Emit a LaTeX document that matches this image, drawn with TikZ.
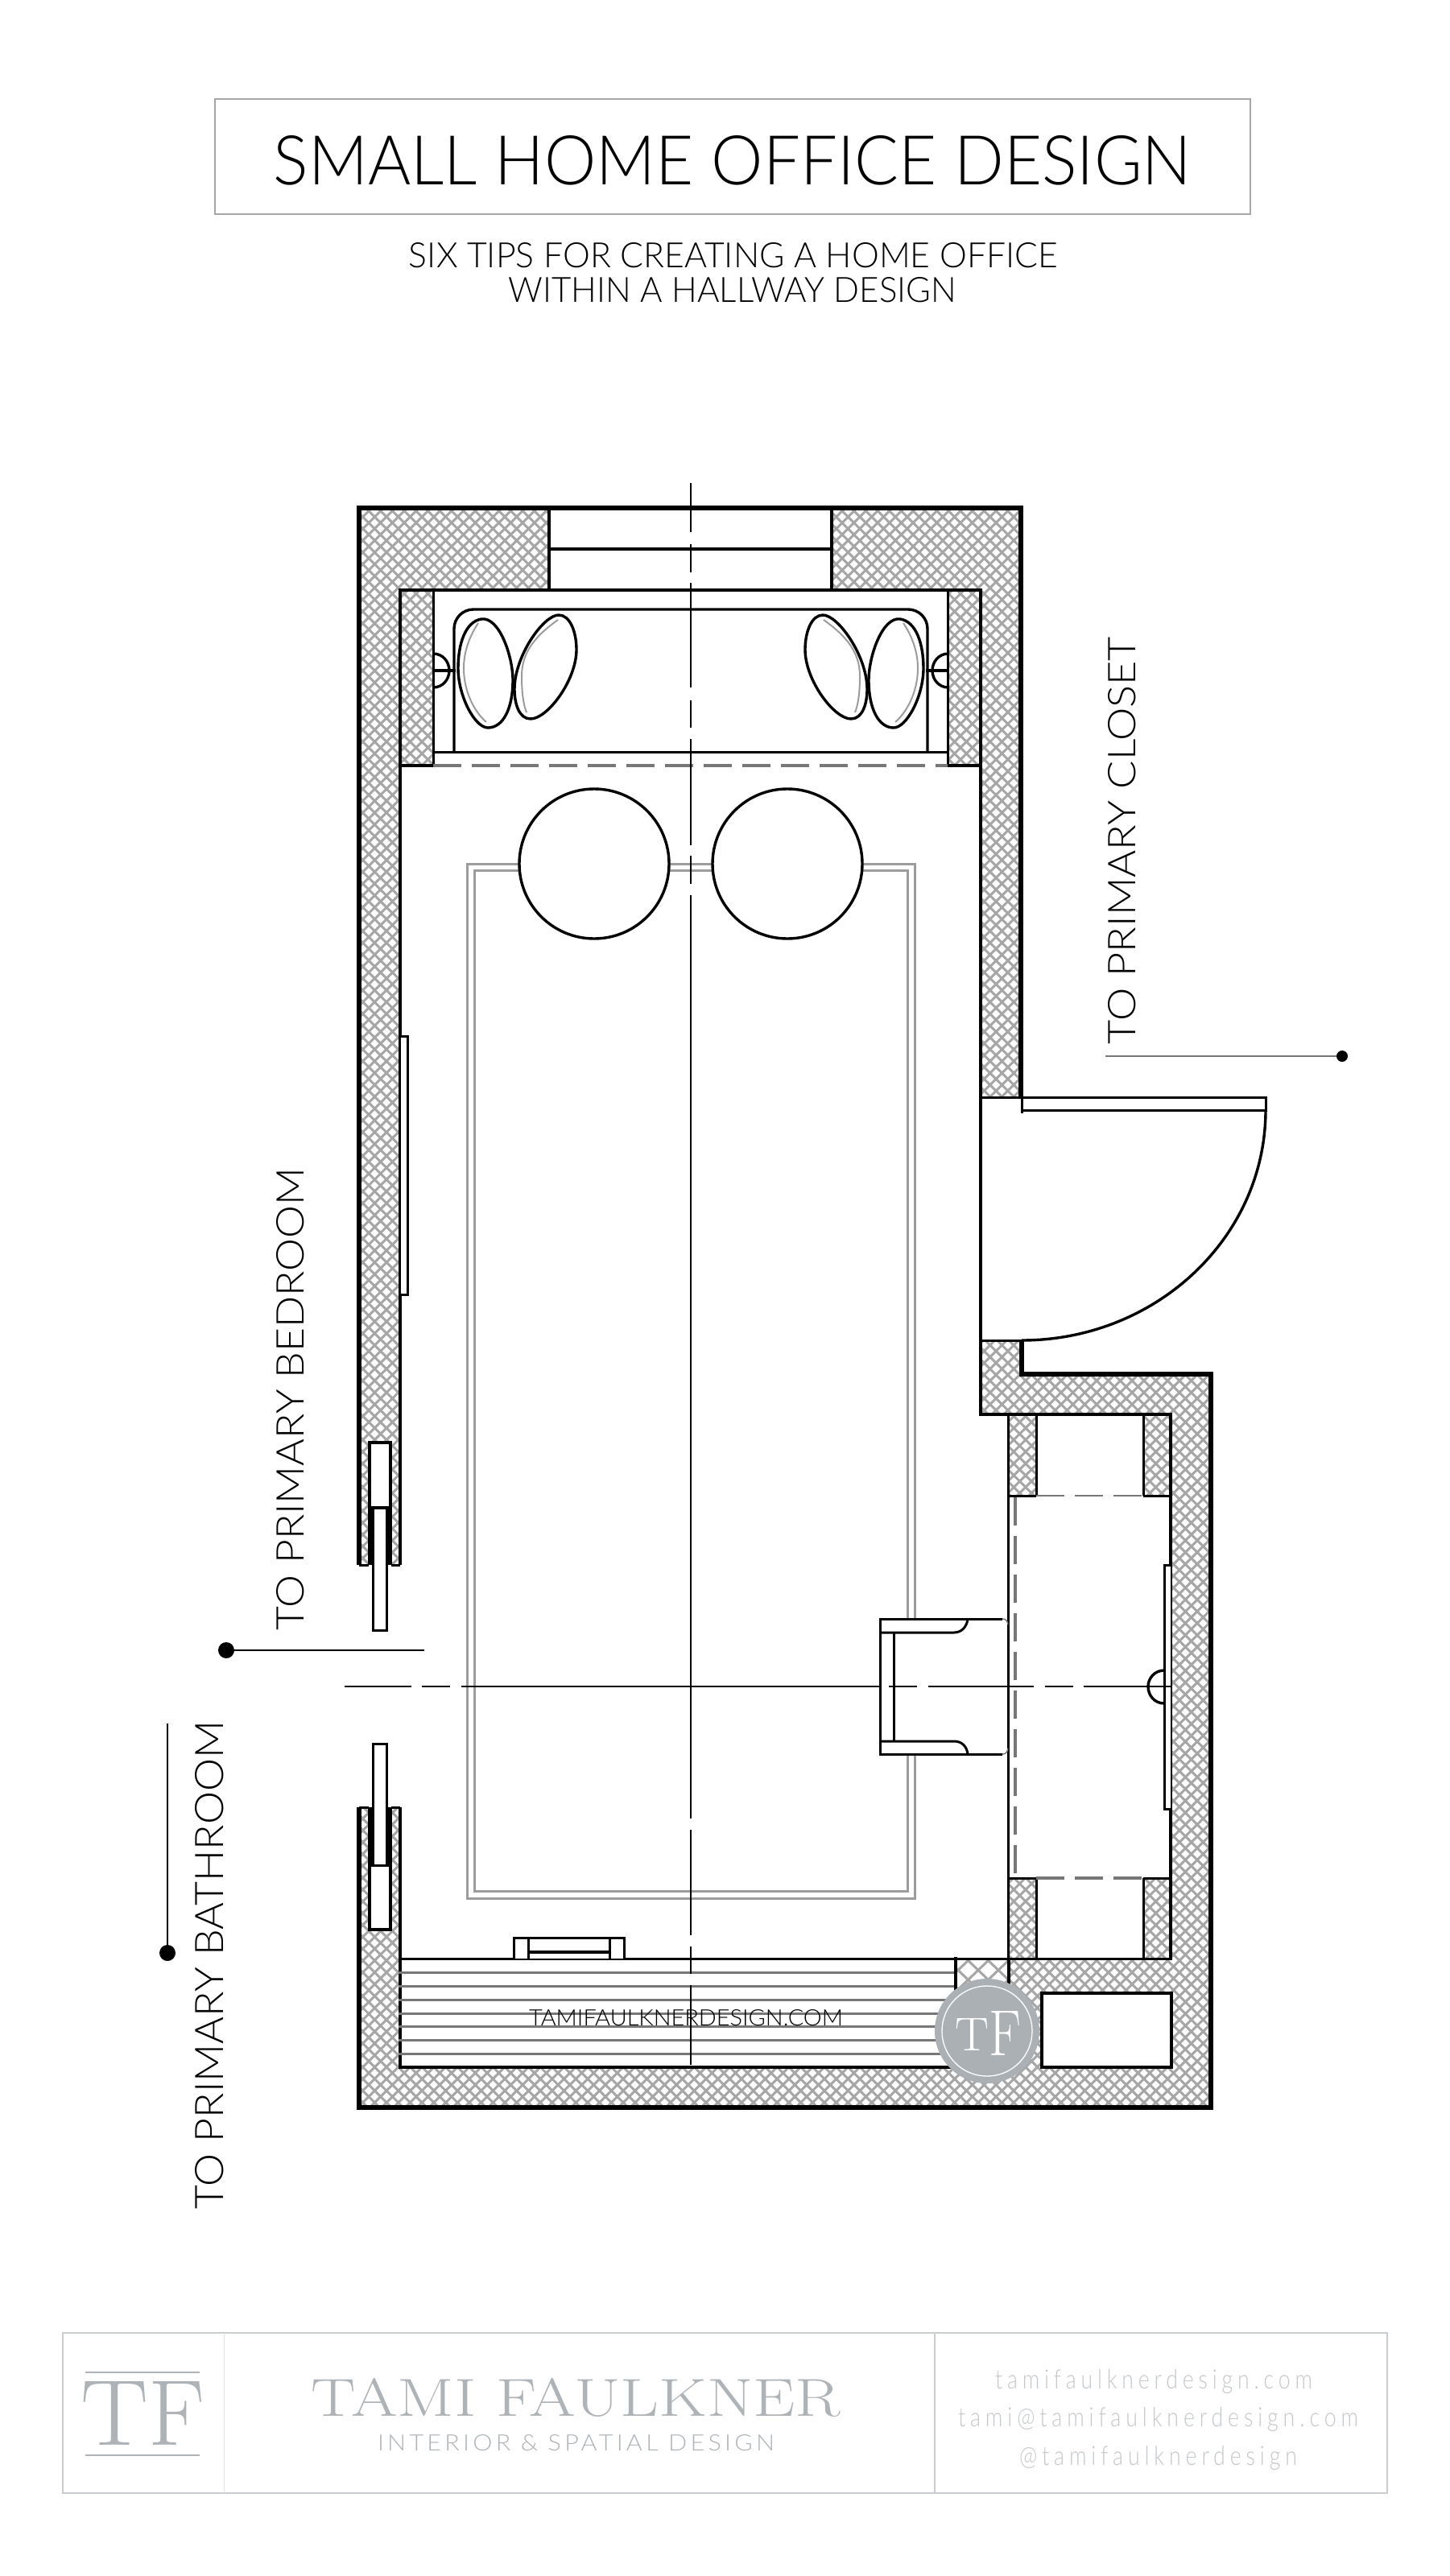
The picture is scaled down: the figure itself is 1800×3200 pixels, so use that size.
\documentclass[tikz,border=0pt]{standalone}
\usepackage{fontspec}
\usepackage{graphicx}
\newfontfamily\lt{Lato}[UprightFont=* Light]
\definecolor{hatchc}{HTML}{A6A6A6}
\definecolor{rugc}{HTML}{9C9C9C}
\definecolor{dashc}{HTML}{777777}
\definecolor{logoc}{HTML}{ABB0B4}
\definecolor{footc}{HTML}{C9CDD0}
\definecolor{foott}{HTML}{AEB3B7}
\definecolor{footl}{HTML}{C4C8CB}
\tikzset{
  wallo/.style={line width=5.5pt,line cap=square,line join=miter},
  walli/.style={line width=4.5pt,line cap=butt,line join=miter},
  thinw/.style={line width=3pt,line cap=butt,line join=miter},
  furn/.style={line width=3.4pt,line join=round},
  rugl/.style={draw=rugc,line width=3pt},
  gdash/.style={draw=dashc,line width=3.2pt,dash pattern=on 35pt off 13pt},
  cline/.style={line width=2.7pt,line cap=butt},
  lab/.style={inner sep=0pt,outer sep=0pt,text=black},
  footbox/.style={draw=footc,line width=1.6pt},
  dotn/.style={circle,fill=black,inner sep=0pt,outer sep=0pt},
}
\newcommand{\fit}[3]{\resizebox{#1pt}{#2pt}{\fontsize{50pt}{50pt}\selectfont #3}}
\newcommand{\pillowset}{%
  \draw[furn,fill=white] (598,769) .. controls (578,772) and (569,800) .. (569,830)
     .. controls (569,865) and (590,904) .. (606,904)
     .. controls (625,904) and (637,880) .. (637,845)
     .. controls (637,815) and (620,766) .. (598,769) -- cycle;
  \draw[rugc,line width=2pt] (594,774) .. controls (580,795) and (576,815) .. (576,830) .. controls (576,860) and (590,885) .. (604,897);
  \draw[furn,fill=white] (694,764) .. controls (708,764) and (716,785) .. (716,807)
     .. controls (716,845) and (680,893) .. (659,893)
     .. controls (645,893) and (639,875) .. (639,856)
     .. controls (639,815) and (675,764) .. (694,764) -- cycle;
  \draw[rugc,line width=2pt] (693,770) .. controls (665,790) and (648,810) .. (648,840) .. controls (648,860) and (650,875) .. (654,885);
  \draw[furn] (538,812) .. controls (550,812) and (558,822) .. (558,833) .. controls (558,844) and (550,854) .. (538,854);
  \draw[line width=3.5pt] (538,833) -- (566,833);
}
\begin{document}
\begin{tikzpicture}[x=1pt,y=-1pt]
\useasboundingbox (0,0) rectangle (1800,3200);
\fill[white] (0,0) rectangle (1800,3200);

% hatch of the walls
\begin{scope}
\clip (446,631) rectangle (682,733)
      (1033,631) rectangle (1268,733)
      (446,631) rectangle (497,1944)
      (497,733) rectangle (538,951)
      (1177,733) rectangle (1218,951)
      (1218,631) rectangle (1268,1363)
      (1218,1665) rectangle (1269,1757)
      (1269,1707) rectangle (1504,1757)
      (1454,1707) rectangle (1504,2618)
      (1252,1757) rectangle (1287,1857)
      (1420,1757) rectangle (1454,1857)
      (1252,2333) rectangle (1287,2433)
      (1420,2333) rectangle (1454,2433)
      (1252,2433) rectangle (1504,2476)
      (1252,2476) rectangle (1294,2568)
      (1455,2476) rectangle (1504,2568)
      (446,2568) rectangle (1504,2618)
      (446,2245) rectangle (497,2618);
  \draw[hatchc,line width=3pt]
    \foreach \i in {0,...,354} {
      ({-1600+14.7*\i},620) -- ({-1600+14.7*\i+2010},2630)
      ({-1600+14.7*\i},620) -- ({-1600+14.7*\i-2010},2630)
    };
\end{scope}
\begin{scope}
\clip (1187,2433) rectangle (1253,2500);
  \draw[hatchc,line width=3pt]
    \foreach \i in {0,...,12} {
      ({1000+25*\i},2433) -- ({1000+25*\i+70},2500)
      ({1180+25*\i},2433) -- ({1180+25*\i-70},2500)
    };
\end{scope}

% rug
\draw[rugl] (580,1073) rectangle (1136,2358);
\draw[rugl] (589,1081) rectangle (1127,2349);

% wall outlines
\draw[wallo] (446,1944) -- (446,631) -- (1268,631) -- (1268,1363);
\draw[wallo] (1269,1665) -- (1269,1707) -- (1504,1707) -- (1504,2618) -- (446,2618) -- (446,2245);
\draw[walli] (497,1944) -- (497,733) -- (1218,733) -- (1218,1757) -- (1252,1757);
\draw[walli] (1252,1757) -- (1454,1757) -- (1454,2435);
\draw[walli] (497,2245) -- (497,2568) -- (1187,2568);
\draw[thinw] (1218,1363) -- (1269,1363);
\draw[thinw] (1218,1665) -- (1269,1665);
\draw[thinw] (1252,1757) -- (1252,2468);
\draw[thinw] (1252,2433) -- (1454,2433);

% window
\draw[walli] (682,631) -- (682,733);
\draw[walli] (1033,631) -- (1033,733);
\draw[walli] (682,682) -- (1033,682);

% window seat and piers
\draw[thinw] (538,733) -- (538,951);
\draw[thinw] (1177,733) -- (1177,951);
\draw[walli] (497,951) -- (538,951);
\draw[walli] (1177,951) -- (1218,951);
\draw[gdash] (538,951) -- (1177,951);
\draw[thinw] (538,934) -- (1177,934);
\draw[furn,rounded corners=24pt] (564,934) -- (564,757) -- (1152,757) -- (1152,934);
\pillowset
\begin{scope}[xshift=1716pt,xscale=-1]
\pillowset
\end{scope}

% stools
\draw[furn,fill=white] (738,1073) circle (93);
\draw[furn,fill=white] (978,1073) circle (93);

% mirror panel on left wall
\draw[thinw,fill=white] (498,1287) -- (506,1287) -- (506,1608) -- (498,1608);

% door openings at left
\draw[thinw] (446,1944) -- (458,1944) (486,1944) -- (497,1944);
\draw[thinw] (446,2245) -- (458,2245) (486,2245) -- (497,2245);
\fill[black] (457,1873) rectangle (487,1944);
\draw[walli,fill=white] (459,1792) -- (485,1792) -- (485,1873) -- (459,1873) -- cycle;
\draw[thinw,fill=white] (463,1873) rectangle (480,2025);
\fill[black] (457,2245) rectangle (487,2317);
\draw[walli,fill=white] (459,2317) -- (485,2317) -- (485,2397) -- (459,2397) -- cycle;
\draw[thinw,fill=white] (463,2166) rectangle (480,2317);

% door to closet
\draw[thinw,fill=white] (1269,1363) rectangle (1572,1379);
\draw[thinw] (1269,1379) -- (1269,1383);
\draw[furn] (1572,1379) .. controls (1572,1537) and (1436,1665) .. (1269,1665);

% desk
\draw[thinw] (1287,1757) -- (1287,1858);
\draw[thinw] (1420,1757) -- (1420,1858);
\draw[thinw] (1252,1858) -- (1287,1858) (1420,1858) -- (1454,1858);
\draw[gdash,line width=2.4pt] (1287,1858) -- (1420,1858);
\draw[thinw] (1287,2333) -- (1287,2433);
\draw[thinw] (1420,2333) -- (1420,2433);
\draw[thinw] (1252,2333) -- (1287,2333) (1420,2333) -- (1454,2333);
\draw[gdash,line width=3.4pt] (1287,2333) -- (1420,2333);
\draw[thinw,fill=white] (1454,1944) -- (1446,1944) -- (1446,2247) -- (1454,2247);
\draw[furn] (1446,2075) .. controls (1434,2075) and (1426,2085) .. (1426,2095) .. controls (1426,2106) and (1434,2116) .. (1446,2116);

% desk chair
\fill[white] (1093,2011) rectangle (1250,2179);
\draw[thinw] (1245,2011) -- (1093,2011) -- (1093,2179) -- (1245,2179);
\draw[thinw] (1093,2028) -- (1185,2028) .. controls (1195,2028) and (1201,2020) .. (1202,2011);
\draw[thinw] (1093,2163) -- (1185,2163) .. controls (1195,2163) and (1201,2170) .. (1202,2179);
\draw[thinw] (1110,2028) -- (1110,2163);
\draw[dashc,line width=1.5pt] (1245,2011) .. controls (1249,2011) and (1251,2013) .. (1252,2018);
\draw[dashc,line width=1.5pt] (1245,2179) .. controls (1249,2179) and (1251,2177) .. (1252,2172);
\draw[gdash] (1261,1860) -- (1261,2332);

% bottom stair
\draw[thinw] (497,2433) -- (1187,2433);
\draw[dashc,line width=3pt] \foreach \y in {2450,2467,2484,2501,2517,2534,2551} {(495,\y) -- (1185,\y)};
\draw[walli] (1187,2431) -- (1187,2475);
\draw[walli] (1253,2433) -- (1253,2465);
\draw[thinw] (1185,2433) -- (1252,2433);
\draw[thinw,fill=white] (638,2433) -- (638,2407) -- (775,2407) -- (775,2433);
\draw[thinw] (656,2407) -- (656,2433) (757,2407) -- (757,2433);
\draw[walli] (656,2425) -- (757,2425);

% cupboard
\draw[walli,fill=white] (1294,2476) rectangle (1455,2568);

% centre lines
\draw[cline] (858,600) -- (858,661)  (858,676) -- (858,711)  (858,724) -- (858,854)
             (858,870) -- (858,904)  (858,918) -- (858,1050) (858,1063) -- (858,1098)
             (858,1112) -- (858,2259) (858,2273) -- (858,2404) (858,2418) -- (858,2452)
             (858,2466) -- (858,2565);
\draw[cline] (428,2095) -- (511,2095)  (524,2095) -- (559,2095)  (573,2095) -- (1092,2095)
             (1104,2095) -- (1139,2095) (1153,2095) -- (1284,2095) (1298,2095) -- (1333,2095)
             (1346,2095) -- (1454,2095);

% watermark text
\node[lab] (wm) at (852,2507) {\lt\fit{390}{20}{TAMIFAULKNERDESIGN.COM}};

% logo
\fill[logoc] (1226,2523) circle (65);
\draw[white,line width=1.3pt] (1226,2523) circle (56);
\node[lab,text=white] (logoT) at (1207,2527) {\rmfamily\fit{42}{40}{T}};
\node[lab,text=white] (logoF) at (1248,2525.5) {\rmfamily\fit{40}{55}{F}};

% title
\draw[draw=black!35,line width=1.6pt] (267,123) rectangle (1553,266);
\node[lab] (title) at (910,199.5) {\lt\fit{1140}{61}{SMALL HOME OFFICE DESIGN}};
\node[lab] (sub1) at (911,317.5) {\lt\fit{806}{31}{SIX TIPS FOR CREATING A HOME OFFICE}};
\node[lab] (sub2) at (910,360.5) {\lt\fit{556}{31}{WITHIN A HALLWAY DESIGN}};

% leader lines and labels
\node[dotn,minimum size=14pt] (dotc) at (1667,1312) {};
\coordinate (cc) at (1373,1312);
\draw[dashc,line width=2pt] (cc) -- (dotc);
\node[lab,rotate=90] (lc) at (1394,1044) {\lt\fit{506}{34}{TO PRIMARY CLOSET}};
\node[dotn,minimum size=20pt] (dotb) at (281,2050) {};
\coordinate (cb) at (527,2050);
\draw[line width=1.4pt] (dotb) -- (cb);
\node[lab,rotate=90] (lb) at (361,1738) {\lt\fit{575}{34}{TO PRIMARY BEDROOM}};
\node[dotn,minimum size=20pt] (dota) at (208,2426) {};
\coordinate (ca) at (208,2141);
\draw[line width=1.4pt] (dota) -- (ca);
\node[lab,rotate=90] (la) at (260.5,2441) {\lt\fit{606}{35}{TO PRIMARY BATHROOM}};

% footer
\draw[footbox] (78,2898) rectangle (1723,3097);
\draw[draw=footc!60,line width=1pt] (278,2898) -- (278,3097);
\draw[draw=footc,line width=1.2pt] (1161,2898) -- (1161,3097);
\fill[foott] (106,2946) rectangle (248,2948);
\fill[foott] (106,3049) rectangle (248,3051);
\node[lab,text=foott] (fT) at (143,2997.5) {\rmfamily\fit{84}{79}{T}};
\node[lab,text=foott] (fF) at (220,2997.5) {\rmfamily\fit{70}{79}{F}};
\node[lab,text=foott] (fn) at (715.5,2978.5) {\rmfamily\addfontfeature{LetterSpace=6}\fit{657}{47}{TAMI FAULKNER}};
\node[lab,text=foott] (fs) at (715.5,3034.5) {\lt\addfontfeature{LetterSpace=14}\fit{493}{20}{INTERIOR \& SPATIAL DESIGN}};
\node[lab,text=footl] (f1) at (1433,2959) {\lt\addfontfeature{LetterSpace=22}\fit{394}{24}{tamifaulknerdesign.com}};
\node[lab,text=footl] (f2) at (1438.5,3006) {\lt\addfontfeature{LetterSpace=22}\fit{497}{24}{tami@tamifaulknerdesign.com}};
\node[lab,text=footl] (f3) at (1438.5,3054) {\lt\addfontfeature{LetterSpace=22}\fit{345}{24}{@tamifaulknerdesign}};
\end{tikzpicture}
\end{document}
